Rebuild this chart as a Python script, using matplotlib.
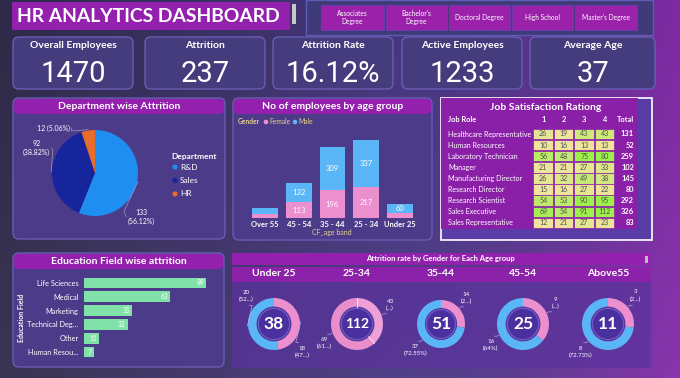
import numpy as np
import matplotlib.pyplot as plt
from matplotlib.patches import FancyBboxPatch, Rectangle, Circle
from matplotlib.colors import to_rgb

# ---- data ----
degree_levels = ["Associates\nDegree", "Bachelor's\nDegree", "Doctoral Degree", "High School", "Master's Degree"]
kpi_titles = ["Overall Employees", "Attrition", "Attrition Rate", "Active Employees", "Average Age"]
kpi_values = ["1470", "237", "16.12%", "1233", "37"]

departments = ["R&D", "Sales", "HR"]
dept_attrition = [133, 92, 12]
dept_labels = ["133\n(56.12%)", "92\n(38.82%)", "12 (5.06%)"]

age_bands = ["Over 55", "45 - 54", "35 - 44", "25 - 34", "Under 25"]
age_female = [28, 113, 196, 217, 38]
age_male = [40, 132, 309, 337, 60]

job_roles = ["Healthcare Representative", "Human Resources", "Laboratory Technician", "Manager",
             "Manufacturing Director", "Research Director", "Research Scientist",
             "Sales Executive", "Sales Representative"]
sat_levels = ["1", "2", "3", "4"]
sat_counts = [[26, 19, 43, 43], [10, 16, 13, 13], [56, 48, 75, 80], [21, 21, 27, 33],
              [26, 32, 49, 38], [15, 16, 27, 22], [54, 53, 90, 95], [69, 54, 91, 112],
              [12, 21, 27, 23]]
job_totals = [131, 52, 259, 102, 145, 80, 292, 326, 83]

edu_fields = ["Life Sciences", "Medical", "Marketing", "Technical Deg...", "Other", "Human Resou..."]
edu_attrition = [89, 63, 35, 32, 11, 7]

donut_groups = ["Under 25", "25-34", "35-44", "45-54", "Above55"]
donut_totals = [38, 112, 51, 25, 11]
donut_female = [18, 43, 14, 9, 3]
donut_male = [20, 69, 37, 16, 8]
donut_female_lbl = ["18\n(47...)", "43\n(...)", "14\n(2...)", "9\n(...)", "3\n(2...)"]
donut_male_lbl = ["20\n(52...)", "69\n(61...)", "37\n(72.55%)", "16\n(64%)", "8\n(72.73%)"]

# ---- style ----
W, H = 680, 378
plt.rcParams['font.family'] = ['Lato', 'DejaVu Sans']
NUMFONT = ['Liberation Sans Narrow', 'Roboto', 'DejaVu Sans']
MAG = '#9421ad'
PANEL = '#4b3b88'
PANEL_EDGE = '#6a5cb4'
PINK = '#ec8fcf'
BLUE = '#5ab6f7'

fig = plt.figure(figsize=(W / 100, H / 100), dpi=100)
ax = fig.add_axes([0, 0, 1, 1])
ax.set_xlim(0, W)
ax.set_ylim(H, 0)
ax.axis('off')

# background gradient
xs = np.linspace(0, 1, 200)
ys = np.linspace(0, 1, 120)
X, Y = np.meshgrid(xs, ys)
left = np.array(to_rgb('#2e2a48'))
mid = np.array(to_rgb('#47367f'))
right = np.array(to_rgb('#7e2aa2'))
t = X[..., None]
img = np.where(t < 0.6, left + (mid - left) * (t / 0.6), mid + (right - mid) * ((t - 0.6) / 0.4) ** 1.5)
img = img + 0.04 * Y[..., None]
ax.imshow(np.clip(img, 0, 1), extent=(0, W, H, 0), aspect='auto', zorder=0)


def box(x0, y0, x1, y1, fc, ec='none', lw=1, r=6, z=1):
    ax.add_patch(FancyBboxPatch((x0, y0), x1 - x0, y1 - y0, boxstyle=f"round,pad=0,rounding_size={r}",
                                fc=fc, ec=ec, lw=lw, zorder=z))


def sub(x0, y0, x1, y1):
    a = fig.add_axes([x0 / W, 1 - y1 / H, (x1 - x0) / W, (y1 - y0) / H])
    a.set_facecolor('none')
    return a


# ---- title + slicer ----
ax.add_patch(Rectangle((12, 2), 278, 28, fc=MAG, zorder=1))
ax.text(17, 17, "HR ANALYTICS DASHBOARD", color='white', fontsize=13.9, fontweight='bold',
        va='center', ha='left', zorder=2)
ax.add_patch(Rectangle((292, 4), 4, 20, fc='#c8c8c8', zorder=2))
ax.add_patch(Rectangle((306, 0), 347, 35, fc='#3f3a78', ec='#5c5cb4', lw=1, zorder=1))
btn_x = [(321, 384), (386, 447), (449, 510), (512, 573), (575, 637)]
for (bx0, bx1), lab in zip(btn_x, degree_levels):
    ax.add_patch(Rectangle((bx0, 5), bx1 - bx0, 25, fc='#9b20aa', ec='#6a3aa8', lw=0.8, zorder=2))
    ax.text((bx0 + bx1) / 2, 17.5, lab, color='white', fontsize=4.8, ha='center', va='center',
            linespacing=1.3, zorder=3)

# ---- KPI cards ----
card_x = [(13, 133), (145, 265), (273, 393), (402, 522), (530, 655)]
for (cx0, cx1), ttl, val in zip(card_x, kpi_titles, kpi_values):
    box(cx0, 37, cx1, 89, '#443c7c', PANEL_EDGE, 1, r=6)
    ax.text((cx0 + cx1) / 2, 46, ttl, color='white', fontsize=7.5, fontweight='bold',
            ha='center', va='center', zorder=3)
    ax.text((cx0 + cx1) / 2, 74, val, color='white', fontsize=21, family=NUMFONT,
            ha='center', va='center', zorder=3)

# ---- panel frames ----
for (px0, py0, px1, py1, ttl) in [(13, 98, 225, 239, "Department wise Attrition"),
                                  (233, 98, 432, 240, "No of employees by age group"),
                                  (13, 253, 224, 367, "Education Field wise attrition")]:
    box(px0, py0, px1, py1, PANEL, PANEL_EDGE, 1, r=6)
    ax.add_patch(FancyBboxPatch((px0 + 1, py0 + 1), px1 - px0 - 2, 15, boxstyle="round,pad=0,rounding_size=5",
                                fc=MAG, ec='none', zorder=2))
    ax.text((px0 + px1) / 2, py0 + 8.5, ttl, color='white', fontsize=7.5, fontweight='bold',
            ha='center', va='center', zorder=3)

# ---- department pie ----
pie_colors = ['#1f8ef1', '#16259b', '#e86c2a']
pa = sub(52, 130, 138, 216)
wedges, _ = pa.pie(dept_attrition, colors=pie_colors, startangle=90, counterclock=False,
                   wedgeprops=dict(lw=0))
pa.set_xlim(-1, 1)
pa.set_ylim(-1, 1)
label_shift = [(-42, 1.28), (-27, 1.2), (20, 1.2)]
for w, lab, (da, rr) in zip(wedges, dept_labels, label_shift):
    mid_a = np.deg2rad((w.theta1 + w.theta2) / 2)
    ang = np.deg2rad((w.theta1 + w.theta2) / 2 + da)
    x, y = np.cos(ang), np.sin(ang)
    sx = 1 if x >= 0 else -1
    pa.plot([1.02 * np.cos(mid_a), 1.12 * x, rr * x - 0.04 * sx], [1.02 * np.sin(mid_a), 1.12 * y, rr * y],
            color='#a09ac0', lw=0.5, clip_on=False)
    pa.text(rr * x, rr * y, lab, color='white', fontsize=5, multialignment='center',
            ha='left' if sx > 0 else 'right', va='center', clip_on=False)
ax.text(171, 156, "Department", color='white', fontsize=6, fontweight='bold', va='center', zorder=3)
for i, (dep, col) in enumerate(zip(departments, pie_colors)):
    ax.add_patch(Circle((175, 167 + 13.5 * i), 2.6, fc=col, ec='none', zorder=3))
    ax.text(180, 167 + 13.5 * i, dep, color='white', fontsize=6, va='center', zorder=3)

# ---- age group stacked bars ----
ba = sub(244.75, 128, 420.25, 218)
xpos = np.arange(len(age_bands))
ba.bar(xpos, age_female, width=0.77, color=PINK)
ba.bar(xpos, age_male, width=0.77, bottom=age_female, color=BLUE)
ba.set_xlim(-0.6, 4.6)
ba.set_ylim(0, 639)
for s in ba.spines.values():
    s.set_visible(False)
ba.set_yticks([])
ba.set_xticks(xpos)
ba.set_xticklabels(age_bands, color='white', fontsize=5.5, fontweight='bold')
ba.tick_params(axis='x', length=0, pad=2)
for i, (f, m) in enumerate(zip(age_female, age_male)):
    if f > 80:
        ba.text(i, f / 2, str(f), color='white', fontsize=5.5, ha='center', va='center')
    if m > 50:
        ba.text(i, f + m / 2, str(m), color='white', fontsize=5.5, ha='center', va='center')
ax.text(332, 232, "CF_age band", color='#e6d48e', fontsize=5, ha='center', va='center', zorder=3)
ax.text(238, 122, "Gender", color='#e6d48e', fontsize=4.8, fontweight='bold', va='center', zorder=3)
ax.add_patch(Circle((266, 122), 2.3, fc=PINK, zorder=3))
ax.text(269.5, 122, "Female", color='#e6d48e', fontsize=4.8, va='center', zorder=3)
ax.add_patch(Circle((295, 122), 2.3, fc=BLUE, zorder=3))
ax.text(298.5, 122, "Male", color='#e6d48e', fontsize=4.8, va='center', zorder=3)

# ---- job satisfaction table ----
ax.add_patch(Rectangle((441, 98), 211, 142, fc='#5a3ca6', ec='white', lw=1.2, zorder=1))
ax.add_patch(Rectangle((441, 98), 197, 131, fc='#8a1fa8', ec='none', zorder=1))
ax.text(546, 108, "Job Satisfaction Rationg", color='white', fontsize=7.5, fontweight='bold',
        ha='center', va='center', zorder=3)
ax.text(448, 120, "Job Role", color='white', fontsize=5.3, fontweight='bold', va='center', zorder=3)
cell_x0, cell_w, row_y0, row_dy = 533, 20.5, 134, 11.1
for j, lvl in enumerate(sat_levels):
    ax.text(cell_x0 + cell_w * (j + 0.5), 120, lvl, color='white', fontsize=5.3, fontweight='bold',
            ha='center', va='center', zorder=3)
ax.text(634, 120, "Total", color='white', fontsize=5.3, fontweight='bold', ha='right', va='center', zorder=3)
yel = np.array(to_rgb('#eee49c'))
grn = np.array(to_rgb('#9ef04a'))
for i, role in enumerate(job_roles):
    yc = row_y0 + i * row_dy
    ax.text(448, yc, role, color='white', fontsize=5.1, va='center', zorder=3)
    for j, v in enumerate(sat_counts[i]):
        tt = np.clip((v - 20) / 55, 0, 1)
        ax.add_patch(Rectangle((cell_x0 + cell_w * j, yc - 5.2), cell_w - 1, 10.4,
                               fc=yel + (grn - yel) * tt, ec='#8a1fa8', lw=0.5, zorder=2))
        ax.text(cell_x0 + cell_w * (j + 0.5), yc, str(v), color='#505050', fontsize=5.1,
                ha='center', va='center', zorder=3)
    ax.text(634, yc, str(job_totals[i]), color='white', fontsize=5.4, fontweight='bold',
            ha='right', va='center', zorder=3)

# ---- education field bars ----
ea = sub(84, 276, 220, 359)
epos = np.arange(len(edu_fields))
ea.barh(epos, edu_attrition, height=0.77, color='#80e2a8')
ea.set_xlim(0, 99.2)
ea.set_ylim(5.5, -0.5)
for s in ea.spines.values():
    s.set_visible(False)
ea.set_xticks([])
ea.set_yticks(epos)
ea.set_yticklabels(edu_fields, color='white', fontsize=5.3)
ea.tick_params(axis='y', length=0, pad=4)
for i, v in enumerate(edu_attrition):
    ea.text(v - 1.5, i, str(v), color='white', fontsize=4.8, ha='right', va='center')
ax.text(22, 318, "Education Field", color='white', fontsize=5, fontweight='bold', rotation=90,
        ha='center', va='center', zorder=3)

# ---- attrition by gender donuts ----
ax.add_patch(Rectangle((232, 253), 419, 12, fc=MAG, zorder=1))
ax.text(440, 259, "Attrition rate by Gender for Each Age group", color='white', fontsize=5.5,
        fontweight='bold', ha='center', va='center', zorder=3)
ax.add_patch(Rectangle((645, 255.5), 3, 7, fc='#bdbdbd', zorder=3))
ax.add_patch(Rectangle((232, 267), 419, 15, fc='#8d22aa', zorder=1))
ax.add_patch(Rectangle((232, 282), 419, 86, fc='#5a339c', alpha=0.75, zorder=1))
donut_cx = [274, 357, 441, 523, 608]
male_cols = [BLUE, '#ea8dcd', BLUE, BLUE, BLUE]
fem_cols = [PINK, '#f0a0d8', PINK, PINK, PINK]
lbl_rot = [-45, 0, 0, 0, 0]
for k, grp in enumerate(donut_groups):
    cx = donut_cx[k]
    ax.text(cx, 274, grp, color='white', fontsize=7.5, fontweight='bold', ha='center', va='center', zorder=3)
    r = 24 if grp == "35-44" else 26
    da = sub(cx - r, 324 - r, cx + r, 324 + r)
    ws, _ = da.pie([donut_female[k], donut_male[k]], colors=[fem_cols[k], male_cols[k]], startangle=90,
                   counterclock=False, wedgeprops=dict(width=0.33, lw=0))
    da.set_xlim(-1, 1)
    da.set_ylim(-1, 1)
    if male_cols[k] != BLUE:
        for w in ws:
            b = np.deg2rad(w.theta1)
            da.plot([0.67 * np.cos(b), np.cos(b)], [0.67 * np.sin(b), np.sin(b)], color='#f8dcef', lw=0.8)
    da.add_patch(Circle((0, 0), 0.6, fc='#4a2f9e', ec='#6f5dcc', lw=0.8))
    da.text(0, 0, str(donut_totals[k]), color='white', fontsize=12.5 if donut_totals[k] < 100 else 10,
            fontweight='bold', ha='center', va='center')
    for w, lab in zip(ws, [donut_female_lbl[k], donut_male_lbl[k]]):
        mid_a = np.deg2rad((w.theta1 + w.theta2) / 2)
        ang = mid_a + np.deg2rad(lbl_rot[k])
        x, y = np.cos(ang), np.sin(ang)
        sx = 1 if x >= 0 else -1
        sy = 1 if y >= 0 else -1
        da.plot([1.03 * np.cos(mid_a), 1.1 * x, 1.1 * x + 0.1 * sx], [1.03 * np.sin(mid_a), 1.1 * y, 1.1 * y],
                color='#b7a9d8', lw=0.5, clip_on=False)
        da.text(1.2 * x + 0.15 * sx, 1.2 * y + 0.3 * sy, lab, color='white', fontsize=4.4,
                linespacing=1.5, multialignment='center', ha='center', va='center', clip_on=False)

fig.savefig('out.png', dpi=100)
